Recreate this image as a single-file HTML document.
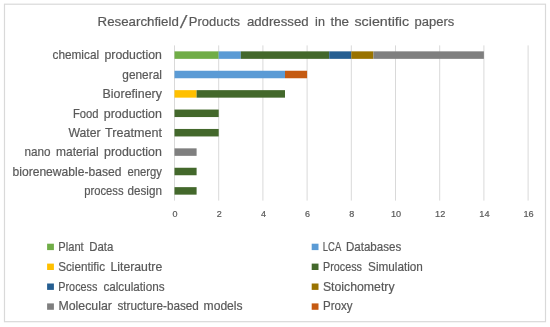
<!DOCTYPE html>
<html lang="en">
<head>
<meta charset="utf-8">
<title>Researchfield/Products addressed in the scientific papers</title>
<style>
html,body{margin:0;padding:0;background:#fff;}
body{width:550px;height:327px;overflow:hidden;}
svg{display:block;}
text{white-space:pre;}
</style>
</head>
<body>
<svg width="550" height="327" viewBox="0 0 550 327">
<rect x="0" y="0" width="550" height="327" fill="#fff"/>
<rect x="4.5" y="4.2" width="541" height="317.5" fill="#fff" stroke="#d9d9d9" stroke-width="1.2"/>
<g stroke="#d9d9d9" stroke-width="1">
<line x1="174.50" y1="45.4" x2="174.50" y2="200.60"/>
<line x1="218.70" y1="45.4" x2="218.70" y2="200.60"/>
<line x1="262.90" y1="45.4" x2="262.90" y2="200.60"/>
<line x1="307.10" y1="45.4" x2="307.10" y2="200.60"/>
<line x1="351.30" y1="45.4" x2="351.30" y2="200.60"/>
<line x1="395.50" y1="45.4" x2="395.50" y2="200.60"/>
<line x1="439.70" y1="45.4" x2="439.70" y2="200.60"/>
<line x1="483.90" y1="45.4" x2="483.90" y2="200.60"/>
<line x1="528.10" y1="45.4" x2="528.10" y2="200.60"/>
</g>
<rect x="174.50" y="51.35" width="44.20" height="7.5" fill="#70AD47"/>
<rect x="218.70" y="51.35" width="22.10" height="7.5" fill="#5B9BD5"/>
<rect x="240.80" y="51.35" width="88.40" height="7.5" fill="#43682B"/>
<rect x="329.20" y="51.35" width="22.10" height="7.5" fill="#255E91"/>
<rect x="351.30" y="51.35" width="22.10" height="7.5" fill="#997300"/>
<rect x="373.40" y="51.35" width="110.50" height="7.5" fill="#7F7F7F"/>
<rect x="174.50" y="70.75" width="110.50" height="7.5" fill="#5B9BD5"/>
<rect x="285.00" y="70.75" width="22.10" height="7.5" fill="#C55A11"/>
<rect x="174.50" y="90.15" width="22.10" height="7.5" fill="#FFC000"/>
<rect x="196.60" y="90.15" width="88.40" height="7.5" fill="#43682B"/>
<rect x="174.50" y="109.55" width="44.20" height="7.5" fill="#43682B"/>
<rect x="174.50" y="128.95" width="44.20" height="7.5" fill="#43682B"/>
<rect x="174.50" y="148.35" width="22.10" height="7.5" fill="#7F7F7F"/>
<rect x="174.50" y="167.75" width="22.10" height="7.5" fill="#43682B"/>
<rect x="174.50" y="187.15" width="22.10" height="7.5" fill="#43682B"/>
<g fill="#595959" stroke="#595959" stroke-width="0.2" font-family="'Liberation Sans', Arial, sans-serif">
<text y="26.3" font-size="13.4"><tspan x="97.6" textLength="81.2" lengthAdjust="spacingAndGlyphs">Researchfield</tspan><tspan x="179.4" textLength="8.2" lengthAdjust="spacingAndGlyphs" dy="1.1" font-size="15.8" stroke-width="0.25" font-family="DejaVu Sans, sans-serif" font-weight="200">/</tspan><tspan x="188.8" textLength="51.2" lengthAdjust="spacingAndGlyphs" dy="-1.1">Products</tspan> <tspan x="246.9" textLength="61.8" lengthAdjust="spacingAndGlyphs">addressed</tspan> <tspan x="315.1" textLength="9.8" lengthAdjust="spacingAndGlyphs">in</tspan> <tspan x="330.4" textLength="18.7" lengthAdjust="spacingAndGlyphs">the</tspan> <tspan x="354.5" textLength="54.6" lengthAdjust="spacingAndGlyphs">scientific</tspan> <tspan x="414.5" textLength="39.7" lengthAdjust="spacingAndGlyphs">papers</tspan></text>
<text y="59.4" font-size="12.1"><tspan x="52.5" textLength="46.6" lengthAdjust="spacingAndGlyphs">chemical</tspan> <tspan x="104.5" textLength="57.4" lengthAdjust="spacingAndGlyphs">production</tspan></text>
<text y="78.8" font-size="12.1"><tspan x="122.3" textLength="39.6" lengthAdjust="spacingAndGlyphs">general</tspan></text>
<text y="98.2" font-size="12.1"><tspan x="102.6" textLength="59.3" lengthAdjust="spacingAndGlyphs">Biorefinery</tspan></text>
<text y="117.5" font-size="12.1"><tspan x="73.0" textLength="25.6" lengthAdjust="spacingAndGlyphs">Food</tspan> <tspan x="103.8" textLength="58.1" lengthAdjust="spacingAndGlyphs">production</tspan></text>
<text y="136.9" font-size="12.1"><tspan x="68.4" textLength="32.2" lengthAdjust="spacingAndGlyphs">Water</tspan> <tspan x="105.0" textLength="56.9" lengthAdjust="spacingAndGlyphs">Treatment</tspan></text>
<text y="156.3" font-size="12.1"><tspan x="24.5" textLength="26.1" lengthAdjust="spacingAndGlyphs">nano</tspan> <tspan x="56.0" textLength="42.6" lengthAdjust="spacingAndGlyphs">material</tspan> <tspan x="104.0" textLength="57.9" lengthAdjust="spacingAndGlyphs">production</tspan></text>
<text y="175.8" font-size="12.1"><tspan x="12.5" textLength="108.9" lengthAdjust="spacingAndGlyphs">biorenewable-based</tspan> <tspan x="127.4" textLength="34.5" lengthAdjust="spacingAndGlyphs">energy</tspan></text>
<text y="195.1" font-size="12.1"><tspan x="84.3" textLength="39.3" lengthAdjust="spacingAndGlyphs">process</tspan> <tspan x="127.5" textLength="34.4" lengthAdjust="spacingAndGlyphs">design</tspan></text>
<text y="217" font-size="9.4" x="172.5" textLength="5.0" lengthAdjust="spacingAndGlyphs">0</text>
<text y="217" font-size="9.4" x="216.7" textLength="5.0" lengthAdjust="spacingAndGlyphs">2</text>
<text y="217" font-size="9.4" x="260.9" textLength="5.0" lengthAdjust="spacingAndGlyphs">4</text>
<text y="217" font-size="9.4" x="305.1" textLength="5.0" lengthAdjust="spacingAndGlyphs">6</text>
<text y="217" font-size="9.4" x="349.3" textLength="5.0" lengthAdjust="spacingAndGlyphs">8</text>
<text y="217" font-size="9.4" x="390.9" textLength="10.2" lengthAdjust="spacingAndGlyphs">10</text>
<text y="217" font-size="9.4" x="435.1" textLength="10.2" lengthAdjust="spacingAndGlyphs">12</text>
<text y="217" font-size="9.4" x="479.3" textLength="10.2" lengthAdjust="spacingAndGlyphs">14</text>
<text y="217" font-size="9.4" x="523.5" textLength="10.2" lengthAdjust="spacingAndGlyphs">16</text>
<text y="250.7" font-size="12.1"><tspan x="58.3" textLength="25.4" lengthAdjust="spacingAndGlyphs">Plant</tspan> <tspan x="89.2" textLength="24.1" lengthAdjust="spacingAndGlyphs">Data</tspan></text>
<text y="270.6" font-size="12.1"><tspan x="58.2" textLength="46.8" lengthAdjust="spacingAndGlyphs">Scientific</tspan> <tspan x="110.5" textLength="51.7" lengthAdjust="spacingAndGlyphs">Literautre</tspan></text>
<text y="290.5" font-size="12.1"><tspan x="58.3" textLength="39.1" lengthAdjust="spacingAndGlyphs">Process</tspan> <tspan x="103.4" textLength="61.2" lengthAdjust="spacingAndGlyphs">calculations</tspan></text>
<text y="310.4" font-size="12.1"><tspan x="58.4" textLength="53.5" lengthAdjust="spacingAndGlyphs">Molecular</tspan> <tspan x="117.4" textLength="81.5" lengthAdjust="spacingAndGlyphs">structure-based</tspan> <tspan x="203.6" textLength="39.0" lengthAdjust="spacingAndGlyphs">models</tspan></text>
<text y="250.7" font-size="12.1"><tspan x="322.8" textLength="17.9" lengthAdjust="spacingAndGlyphs">LCA</tspan> <tspan x="345.9" textLength="55.3" lengthAdjust="spacingAndGlyphs">Databases</tspan></text>
<text y="270.6" font-size="12.1"><tspan x="323.0" textLength="38.9" lengthAdjust="spacingAndGlyphs">Process</tspan> <tspan x="368.1" textLength="54.8" lengthAdjust="spacingAndGlyphs">Simulation</tspan></text>
<text y="290.5" font-size="12.1"><tspan x="322.9" textLength="71.7" lengthAdjust="spacingAndGlyphs">Stoichometry</tspan></text>
<text y="310.4" font-size="12.1"><tspan x="323.0" textLength="29.5" lengthAdjust="spacingAndGlyphs">Proxy</tspan></text>
</g>
<rect x="47.1" y="243.7" width="6.8" height="6.4" fill="#70AD47"/>
<rect x="47.1" y="263.6" width="6.8" height="6.4" fill="#FFC000"/>
<rect x="47.1" y="283.5" width="6.8" height="6.4" fill="#255E91"/>
<rect x="47.1" y="303.4" width="6.8" height="6.4" fill="#7F7F7F"/>
<rect x="311.7" y="243.7" width="6.8" height="6.4" fill="#5B9BD5"/>
<rect x="311.7" y="263.6" width="6.8" height="6.4" fill="#43682B"/>
<rect x="311.7" y="283.5" width="6.8" height="6.4" fill="#997300"/>
<rect x="311.7" y="303.4" width="6.8" height="6.4" fill="#C55A11"/>
</svg>
</body>
</html>
